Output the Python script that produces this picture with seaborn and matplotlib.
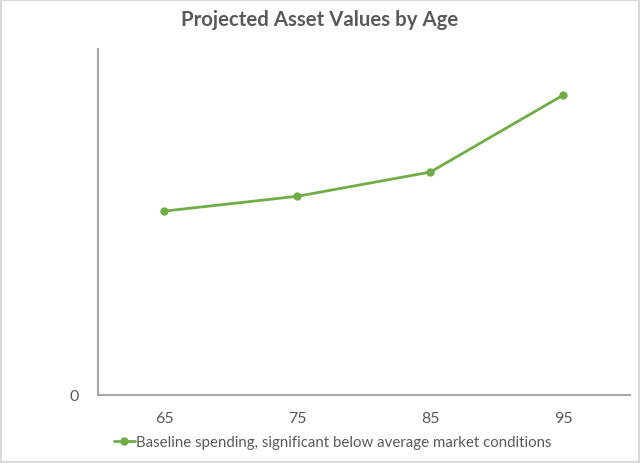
import pandas as pd
import numpy as np
import seaborn as sns
import matplotlib.pyplot as plt

# data (arbitrary units, only 0 is labelled)
ages = ["65", "75", "85", "95"]
values = [1860, 2010, 2255, 3035]
series_name = "Baseline spending, significant below average market conditions"

df = pd.DataFrame({"Age": ages, "Value": values, "Series": series_name})

sns.set_style("white")
plt.rcParams['font.family'] = ['Lato', 'DejaVu Sans']

grey = "#595959"
green = "#70AD47"

fig = plt.figure(figsize=(6.4, 4.64), dpi=100)
fig.patch.set_edgecolor("#D9D9D9")
fig.patch.set_linewidth(1.5)
ax = fig.add_axes([0.153, 0.147, 0.831, 0.745])

sns.lineplot(data=df, x="Age", y="Value", hue="Series", palette=[green],
             marker="o", markersize=6, markeredgewidth=0, linewidth=2,
             sort=False, ax=ax)

ax.set_xlim(-0.5, len(ages) - 0.5)
ax.set_ylim(0, 3500)
ax.set_yticks([0])
ax.set_xlabel("")
ax.set_ylabel("")
ax.tick_params(axis="both", length=0, labelsize=11.5, labelcolor=grey)
ax.tick_params(axis="x", pad=12)
ax.tick_params(axis="y", pad=14)

for s in ["top", "right"]:
    ax.spines[s].set_visible(False)
ax.spines["left"].set_color("#A6A6A6")
ax.spines["bottom"].set_color("#A6A6A6")
ax.spines["left"].set_linewidth(1.5)
ax.spines["bottom"].set_linewidth(1.5)

fig.suptitle("Projected Asset Values by Age", x=0.5, y=0.978,
             fontsize=14.7, fontweight="bold", color=grey)

leg = ax.legend(loc="center", bbox_to_anchor=(0.52, 0.045),
                bbox_transform=fig.transFigure, frameon=False,
                fontsize=10.8, handlelength=1.4, handletextpad=0.1,
                labelcolor=grey)

fig.savefig("out.png", dpi=100)
